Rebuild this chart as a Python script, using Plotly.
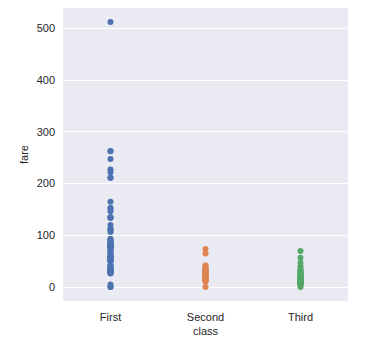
import plotly.graph_objects as go

categories = ["First", "Second", "Third"]
fare_first = [0, 0, 5, 26, 26.55, 27.72, 28.5, 29.7, 30, 30.5, 31, 32.3, 33.5, 34.65, 35.5,
              38.5, 39.6, 40.125, 42.4, 49.5, 50, 51.86, 52, 53.1, 55, 55.9, 56.93, 57, 59.4,
              61.18, 61.38, 63.36, 66.6, 69.3, 71, 75.25, 76.29, 76.73, 77.29, 77.96, 78.27,
              79.2, 79.65, 80, 81.86, 82.17, 83.16, 83.48, 86.5, 89.1, 90, 91.08, 93.5,
              106.43, 108.9, 110.88, 113.28, 120, 133.65, 134.5, 135.63, 146.52, 151.55,
              153.46, 164.87, 211.34, 211.5, 221.78, 227.53, 247.52, 262.38, 263, 512.33]
fare_second = [0, 10.5, 11.5, 12.35, 13, 13.5, 14.5, 15, 15.05, 16, 18.75, 19.5, 21, 23, 24,
               26, 26.25, 27, 27.72, 29, 30, 30.07, 31.5, 32.5, 33, 36.75, 37, 39, 41.58,
               65, 73.5]
fare_third = [0, 4.01, 6.24, 6.45, 6.75, 7.05, 7.25, 7.75, 7.9, 8.05, 8.66, 9.5, 11.13, 12.48,
              13.42, 14.45, 15.5, 16.1, 17.8, 18.79, 19.26, 20.21, 20.58, 21.68, 22.03, 23.25,
              24.15, 25.47, 27.9, 29.13, 31.28, 31.39, 34.38, 39.69, 46.9, 56.5, 69.55]
colors = ["#4c72b0", "#dd8452", "#55a868"]

fig = go.Figure()
for cat, vals, col in zip(categories, [fare_first, fare_second, fare_third], colors):
    fig.add_trace(go.Scatter(
        x=[cat] * len(vals), y=vals, mode="markers",
        marker=dict(color=col, size=6, line=dict(width=0)),
        showlegend=False))

font = dict(family="Liberation Sans, Arial, sans-serif", size=11, color="#262626")
fig.update_layout(
    width=367, height=343,
    margin=dict(l=63, r=19, t=8, b=42),
    paper_bgcolor="white", plot_bgcolor="#eaeaf2",
    font=font,
    xaxis=dict(type="category", categoryorder="array", categoryarray=categories,
               range=[-0.5, 2.5], showgrid=False, zeroline=False, showline=False,
               ticks="", ticklabelstandoff=8,
               title=dict(text="class", standoff=5, font=font)),
    yaxis=dict(range=[-27, 539.6], tickvals=[0, 100, 200, 300, 400, 500],
               showgrid=True, gridcolor="white", gridwidth=1, zeroline=False,
               showline=False, ticks="", ticklabelstandoff=7,
               title=dict(text="fare", standoff=5, font=font)),
)
fig.write_html("out.html")
